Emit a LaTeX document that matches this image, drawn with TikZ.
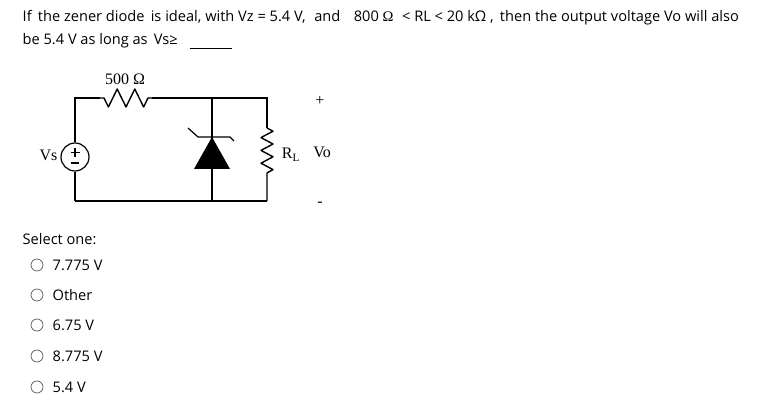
\documentclass[tikz,border=0pt]{standalone}
\usepackage{fontspec}
\setmainfont{Open Sans}
\newfontfamily\ser{Liberation Serif}
\begin{document}
\begin{tikzpicture}[x=1pt,y=-1pt,line width=1.4pt,
  txt/.style={anchor=west,inner sep=0,font=\fontsize{14.6}{16}\selectfont},
  circ/.style={draw,line width=0.7pt,gray!70!black,circle,minimum size=12pt,inner sep=0},
  lbl/.style={inner sep=0,font=\ser\fontsize{16}{18}\selectfont}]
\useasboundingbox (0,0) rectangle (769,419);
\node[txt] (q1) at (22,18) {If\, the zener diode\, is ideal, with Vz = 5.4 V,\,\, and\,\,\,\, 800 {\ser Ω}\,\, < RL < 20 kΩ ,\, then the output voltage Vo will also};
\node[txt] (q2) at (22,41) {be 5.4 V as long as\, Vs≥};
\draw[line width=0.6pt] (190,48) -- (232,48);
% circuit
\coordinate (tl) at (75,98); \coordinate (bl) at (75,201);
\coordinate (r1) at (100,98); \coordinate (r2) at (152,98);
\coordinate (dt) at (212,98); \coordinate (db) at (212,201);
\coordinate (rt) at (267,98); \coordinate (rb) at (267,201);
\node[draw,circle,minimum size=28pt,inner sep=0,line width=1.2pt] (vs) at (75,157) {};
\draw (bl) -- (vs.south); \draw (vs.north) -- (tl) -- (r1);
\draw[line join=round] (r1) -- ++(4,-0) -- ++(4.4,9) -- ++(8.8,-18)-- ++(8.8,18) -- ++(8.8,-18) -- ++(8.8,18) -- ++(4.4,-9) -- (r2);
\draw (r2) -- (rt) -- (267,128);
\draw[line join=round] (267,128) -- ++(6,3.2) -- ++(-12,6.4) -- ++(12,6.4) -- ++(-12,6.4) -- ++(12,6.4) -- ++(-12,6.4) -- ++(12,6.4) -- ++(-6,3.4) -- (rb);
\draw (rb) -- (bl);
\draw (dt) -- (db);
\fill (194,169) -- (230,169) -- (212,137) -- cycle;
\draw[line width=1.2pt] (188,128) -- (198,137) -- (230,137) -- (234,141);
\draw[line width=1.6pt] (75,148) -- (75,157) (70.5,152.5) -- (79.5,152.5) (71,163) -- (79,163);
\node[lbl,anchor=east] (vsl) at (58,155) {Vs};
\node[lbl] (rl) at (125,79) {500 Ω};
\node[lbl] (rll) at (291,155) {R\textsubscript{L}};
\node[lbl] (vo) at (322,152) {Vo};
\node[lbl] (pl) at (320,101) {+};
\node[lbl] (mi) at (320,204) {-};
% options
\node[txt] (sel) at (22,239) {Select one:};
\foreach \y/\t/\n in {265/7.775 V/a,295/Other/b,325/6.75 V/c,356/8.775 V/d,387/5.4 V/e}{
  \node[circ] (c\n) at (37,\y) {};
  \node[txt] (t\n) at (52,\y) {\t};
}
\end{tikzpicture}
\end{document}
